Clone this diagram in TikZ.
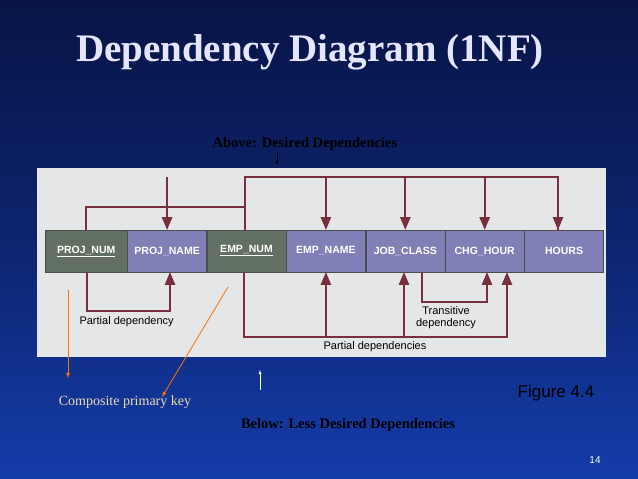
\documentclass[tikz,border=0pt]{standalone}
\usepackage{fontspec}
\setmainfont{Liberation Serif}
\newfontfamily\diagsans{Liberation Sans}
\usetikzlibrary{positioning, arrows}
\definecolor{navy}{RGB}{8,20,70}
\definecolor{slideblue}{RGB}{20,60,170}
\definecolor{panelgray}{RGB}{228,230,232}
\definecolor{keygreen}{RGB}{98,112,98}
\definecolor{attrblue}{RGB}{128,128,182}
\definecolor{deparrow}{RGB}{118,48,62}
\definecolor{notecol}{RGB}{238,218,180}
\begin{document}
\begin{tikzpicture}[x=1pt, y=-1pt,
					keynode/.style={rectangle,
					draw=black!70,
					fill=keygreen,
					text=white,
					font=\diagsans\bfseries\fontsize{10.5}{11}\selectfont,
					minimum width=79pt,
					minimum height=42pt,
					inner sep=0pt},
					attrnode/.style={keynode, fill=attrblue},
					dep/.style={deparrow, line width=2pt},
					deparr/.style={dep, -triangle 45},
					note/.style={orange!90!red, thick, -latex},
					lbl/.style={font=\diagsans\fontsize{11}{12}\selectfont}
					]

\useasboundingbox (0,0) rectangle (638,479);
% slide background
\shade[top color=navy, bottom color=slideblue, middle color=navy!60!slideblue] (0,0) rectangle (638,479);
\fill[panelgray] (37,168) rectangle (606,357);

% title
\node (title) [text=blue!10, font=\bfseries\fontsize{39}{42}\selectfont] at (310,52) {Dependency Diagram (1NF)};

% attribute nodes
\node[keynode, minimum width=82pt]  (pnum)  [anchor=west] at (45,251) {\underline{PROJ\_NUM}};
\node[attrnode] (pname) [right=0pt of pnum]  {PROJ\_NAME};
\node[keynode]  (enum)  [right=0pt of pname] {\underline{EMP\_NUM}};
\node[attrnode] (ename) [right=0pt of enum]  {EMP\_NAME};
\node[attrnode] (jclass)[right=0pt of ename] {JOB\_CLASS};
\node[attrnode] (chour) [right=0pt of jclass]{CHG\_HOUR};
\node[attrnode] (hours) [right=0pt of chour] {HOURS};

% desired dependencies (above)
\draw[dep] (pnum.north -| 86,0) |- (245,207) -- (enum.north -| 245,0);
\draw[dep] (245,207) -- (245,177) -| (hours.north -| 558,0);
\draw[deparr] (pname.north |- 0,177) -- (pname.north);
\draw[deparr] (ename.north |- 0,177) -- (ename.north);
\draw[deparr] (jclass.north |- 0,177) -- (jclass.north);
\draw[deparr] (chour.north |- 0,177) -- (chour.north);
\draw[deparr] (hours.north -| 558,0) ++(0,-53) -- (hours.north -| 558,0);

% less desired dependencies (below)
\draw[deparr] (pnum.south -| 87,0) |- (170,311) -- (pname.south -| 170,0);
\draw[deparr] (enum.south -| 244,0) |- (507,337) -- (hours.south -| 507,0);
\draw[deparr] (ename.south |- 0,337) -- (ename.south);
\draw[deparr] (jclass.south -| 404,0) ++(0,65) -- (jclass.south -| 404,0);
\draw[deparr] (jclass.south -| 422,0) |- (487,302) -- (chour.south -| 487,0);

\node (lblpart) [lbl, anchor=west] at (76,322) {Partial dependency};
\node (lbltrans) [lbl, align=center] at (446,318) {Transitive\\dependency};
\node (lblparts) [lbl] at (375,347) {Partial dependencies};

% annotations
\node (above) [font=\bfseries\fontsize{14.5}{16}\selectfont] at (305,144) {Above: Desired Dependencies};
\coordinate (abovetip) at (277,165);
\draw[-latex, thin] (277,153) -- (abovetip);
\node (ckey) [text=notecol, font=\fontsize{14}{16}\selectfont] at (125,402) {Composite primary key};
\draw[note] (68,290) -- (68,378);
\draw[note] (228,287) -- (162,397);
\node (below) [font=\bfseries\fontsize{14.5}{16}\selectfont] at (348,425) {Below: Less Desired Dependencies};
\draw[-latex, white, thin] (260,390) -- (260,370);
\node (fig) [font=\diagsans\fontsize{17}{19}\selectfont] at (556,393) {Figure 4.4};
\node (pgno) [text=white, font=\diagsans\fontsize{10}{11}\selectfont] at (595,460) {14};
\end{tikzpicture}
\end{document}
